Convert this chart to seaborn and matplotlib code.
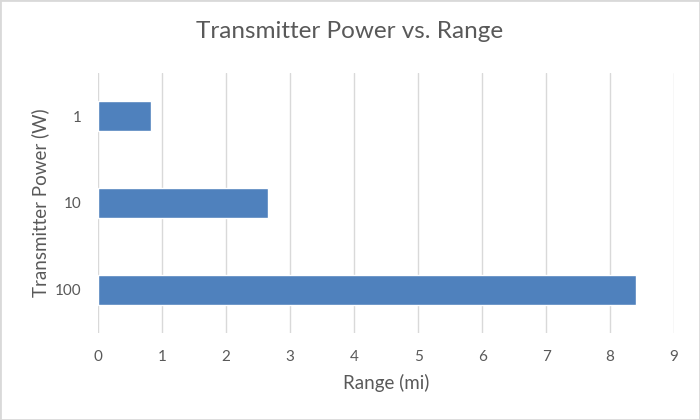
import matplotlib
matplotlib.use("Agg")
import matplotlib.pyplot as plt
import seaborn as sns
import pandas as pd
from matplotlib.patches import Rectangle

# data
power_labels = ["1", "10", "100"]
range_mi = [0.83, 2.65, 8.40]
x_ticks = [0, 1, 2, 3, 4, 5, 6, 7, 8, 9]

TEXT = "#595959"
GRID = "#D9D9D9"
BAR = "#4F81BD"

sns.set_theme(style="white")
plt.rcParams["font.family"] = ["Lato", "DejaVu Sans"]

df = pd.DataFrame({"power": power_labels, "range": range_mi})

fig = plt.figure(figsize=(7, 4.2), dpi=100)
ax = fig.add_axes([0.14, 0.207, 0.823, 0.62])

sns.barplot(data=df, x="range", y="power", order=power_labels, orient="h",
            color=BAR, saturation=1, width=0.345, ax=ax)

ax.set_xlim(0, 9)
ax.set_ylim(2.5, -0.5)
ax.set_xticks(x_ticks)
ax.xaxis.grid(True, color=GRID, linewidth=1)
ax.set_axisbelow(True)
for s in ax.spines.values():
    s.set_visible(False)

ax.tick_params(axis="both", length=0, colors=TEXT, labelsize=11)
ax.tick_params(axis="x", pad=12)
ax.tick_params(axis="y", pad=12)
ax.set_xlabel("Range (mi)", color=TEXT, fontsize=13.5, labelpad=7)
ax.set_ylabel("Transmitter Power (W)", color=TEXT, fontsize=13.5, labelpad=4)
fig.suptitle("Transmitter Power vs. Range", color=TEXT, fontsize=17.5, y=0.95)

fig.patches.append(Rectangle((0, 0), 1, 1, transform=fig.transFigure,
                             fill=False, edgecolor="#D9D9D9", linewidth=2))

fig.savefig("out.png", dpi=100, facecolor="white")
